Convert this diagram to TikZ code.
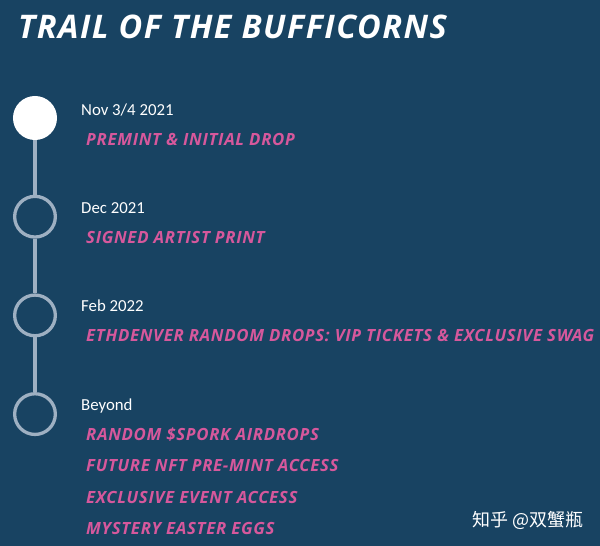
\documentclass[tikz,border=0pt]{standalone}
\usepackage{fontspec}
\setmainfont{Carlito}
\newfontfamily\headfont{Open Sans}[LetterSpace=4.5]
\newfontfamily\eventfont{Open Sans}[LetterSpace=4]
\newfontfamily\cjk{Noto Sans CJK SC}
\definecolor{navy}{RGB}{24,67,98}
\definecolor{rose}{RGB}{214,88,156}
\definecolor{steel}{RGB}{158,176,194}

\begin{document}
\begin{tikzpicture}[x=1pt,y=-1pt]
\tikzstyle{title} = [anchor=base west, inner sep=0pt, text=white,
font=\headfont\bfseries\itshape\fontsize{32.5}{36}\selectfont]
\tikzstyle{dot} = [circle, draw=steel, line width=3.3pt, fill=navy,
minimum size=40.7pt, inner sep=0pt]
\tikzstyle{dot_on} = [dot, draw=white, fill=white]
\tikzstyle{date} = [anchor=base west, inner sep=0pt, text=white,
font=\fontsize{16.8}{20}\selectfont]
\tikzstyle{event} = [anchor=base west, inner sep=0pt, text=rose,
font=\eventfont\bfseries\itshape\fontsize{16.8}{18}\selectfont]
\tikzstyle{line} = [draw=steel, line width=3.5pt]

\fill[navy] (0,0) rectangle (600,546);
\useasboundingbox (0,0) rectangle (600,546);

\node [title] (head) at (18,38) {TRAIL OF THE BUFFICORNS};

% stop 1
\node [dot_on] (dot1) at (35,118) {};
\node [date] (date1) at (81,115) {Nov 3/4 2021};
\node [event] (ev1) at (86,145) {PREMINT \& INITIAL DROP};
% stop 2
\node [dot] (dot2) at (35,216.7) {};
\node [date] (date2) at (81,213) {Dec 2021};
\node [event] (ev2) at (86,243) {SIGNED ARTIST PRINT};
% stop 3
\node [dot] (dot3) at (35,315.4) {};
\node [date] (date3) at (81,311) {Feb 2022};
\node [event] (ev3) at (86,341) {ETHDENVER RANDOM DROPS: VIP TICKETS \& EXCLUSIVE SWAG};
% stop 4
\node [dot] (dot4) at (35,414.1) {};
\node [date] (date4) at (81,410) {Beyond};
\node [event] (ev4a) at (86,440) {RANDOM \$SPORK AIRDROPS};
\node [event] (ev4b) at (86,471.5) {FUTURE NFT PRE-MINT ACCESS};
\node [event] (ev4c) at (86,503) {EXCLUSIVE EVENT ACCESS};
\node [event] (ev4d) at (86,534.5) {MYSTERY EASTER EGGS};

\path [line] (dot1) -- (dot2);
\path [line] (dot2) -- (dot3);
\path [line] (dot3) -- (dot4);

\node [anchor=base west, inner sep=0pt, text=white,
font=\cjk\fontsize{18}{20}\selectfont] (mark) at (472,526) {知乎 @双蟹瓶};
\end{tikzpicture}
\end{document}
